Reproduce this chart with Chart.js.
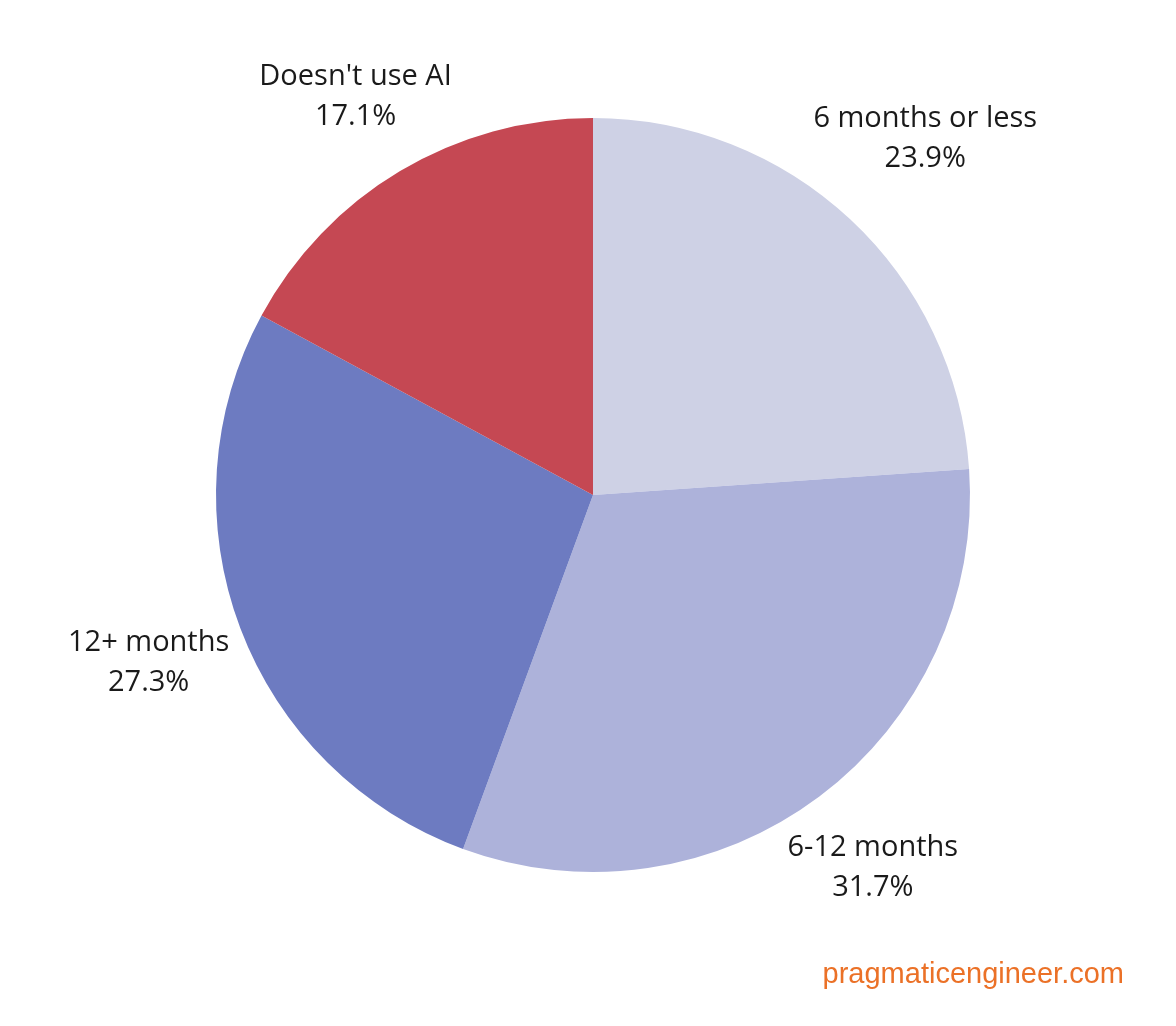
<!DOCTYPE html>
<html>
<head>
<meta charset="utf-8">
<script src="https://cdn.jsdelivr.net/npm/chart.js@4"></script>
<style>
  html, body { margin: 0; padding: 0; background: #fff; }
  #wrap { width: 1176px; height: 1026px; }
</style>
</head>
<body>
<div id="wrap"><canvas id="aiChart"></canvas></div>
<script>
// survey: how long have you been using AI tools
const categories = ["6 months or less", "6-12 months", "12+ months", "Doesn't use AI"];
const shares = [23.9, 31.7, 27.3, 17.1];
const sliceColors = ["#CED1E5", "#ADB2DA", "#6D7BC1", "#C54853"];

// labels outside each slice, pushed out along the mid angle until
// the inner corner of the text box clears the pie edge
const outsideLabels = {
    id: "outsideLabels",
    afterDraw(chart){
        const ctx = chart.ctx;
        const meta = chart.getDatasetMeta(0);
        const lineGap = 40;
        ctx.save();
        ctx.font = "29px 'Open Sans', sans-serif";
        ctx.fillStyle = "#1a1a1a";
        ctx.textAlign = "center";
        ctx.textBaseline = "middle";
        meta.data.forEach((arc, i) => {
            const mid = (arc.startAngle + arc.endAngle) / 2;
            const ux = Math.cos(mid), uy = Math.sin(mid);
            const top = categories[i];
            const bottom = shares[i].toFixed(1) + "%";
            const hw = Math.max(ctx.measureText(top).width, ctx.measureText(bottom).width) / 2;
            const hh = lineGap;
            const want = arc.outerRadius + 8;
            let t = arc.outerRadius;
            for(let k = 0; k < 400; k++){
                const cx = ux * t - Math.sign(ux) * hw;
                const cy = uy * t - Math.sign(uy) * hh;
                if(Math.hypot(cx, cy) >= want) break;
                t += 1;
            }
            const x = arc.x + ux * t;
            const y = arc.y + uy * t;
            ctx.fillText(top, x, y - lineGap / 2);
            ctx.fillText(bottom, x, y + lineGap / 2);
        });
        ctx.font = "29px 'Liberation Sans', Arial, sans-serif";
        ctx.fillStyle = "#EB7127";
        ctx.textAlign = "right";
        ctx.textBaseline = "alphabetic";
        ctx.fillText("pragmaticengineer.com", 1124, 983);
        ctx.restore();
    }
};

const ctx = document.getElementById("aiChart").getContext("2d");

new Chart(ctx, {
    type: "pie",
    data: {
        labels: categories,
        datasets: [{
            data: shares,
            backgroundColor: sliceColors,
            borderWidth: 0
        }]
    },
    options: {
        responsive: true,
        maintainAspectRatio: false,
        animation: false,
        layout: {
            padding: { top: 118, bottom: 154, left: 216, right: 206 }
        },
        plugins: {
            legend: { display: false },
            tooltip: { enabled: false }
        }
    },
    plugins: [outsideLabels]
});
</script>
</body>
</html>
